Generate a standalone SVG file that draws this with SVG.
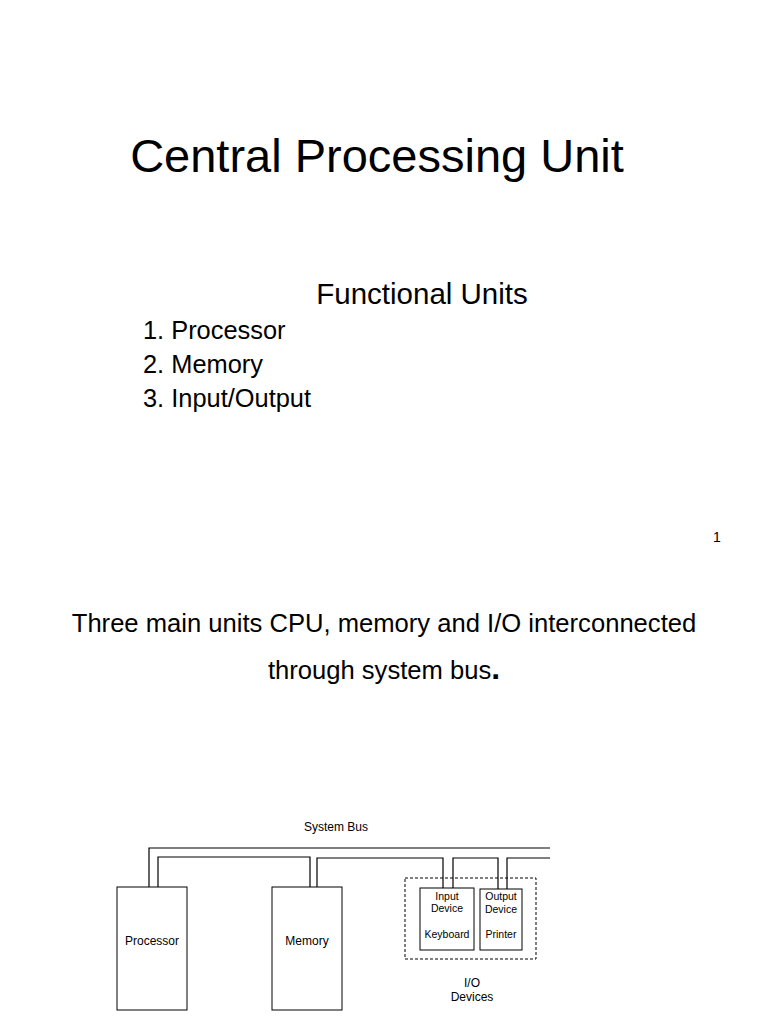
<svg xmlns="http://www.w3.org/2000/svg" width="768" height="1024" viewBox="0 0 768 1024">
<style>
text{font-family:"Liberation Sans",Arial,sans-serif;fill:#000}
.box{fill:#fff;stroke:#000;stroke-width:1}
.w{fill:none;stroke:#000;stroke-width:1.2}
.s{font-size:12px;text-anchor:middle}
.t{font-size:10.5px;text-anchor:middle}
</style>
<rect width="768" height="1024" fill="#fff"/>
<text x="377" y="172" font-size="47" text-anchor="middle">Central Processing Unit</text>
<text x="422" y="304" font-size="29.5" text-anchor="middle">Functional Units</text>
<text x="143" y="339" font-size="25.4">1. Processor</text>
<text x="143" y="373" font-size="25.4">2. Memory</text>
<text x="143" y="407" font-size="25.4">3. Input/Output</text>
<text x="717" y="542" font-size="14" text-anchor="middle">1</text>
<text x="384" y="632" font-size="25.6" text-anchor="middle">Three main units CPU, memory and I/O interconnected</text>
<text x="384" y="679" font-size="25.6" text-anchor="middle">through system bus<tspan font-size="32" font-weight="bold">.</tspan></text>
<g id="connectors">
<polyline class="w" points="149,887 149,848 550,848"/>
<polyline class="w" points="158,887 158,857 310,857 310,887"/>
<polyline class="w" points="317,887 317,858 443,858 443,889"/>
<polyline class="w" points="453,889 453,858 498,858 498,889"/>
<polyline class="w" points="507,889 507,858 550,858"/>
</g>
<text x="336" y="831" class="s">System Bus</text>
<g id="processor"><rect class="box" x="117" y="887" width="70" height="123"/><text x="152" y="945" class="s">Processor</text></g>
<g id="memory"><rect class="box" x="272" y="887" width="70" height="123"/><text x="307" y="945" class="s">Memory</text></g>
<g id="io"><rect x="405" y="878" width="131" height="81" fill="none" stroke="#000" stroke-dasharray="3,2"/>
<text x="472" y="987" class="s">I/O</text><text x="472" y="1001" class="s">Devices</text></g>
<g id="input"><rect class="box" x="420" y="888" width="54" height="62"/><text x="447" y="900" class="t">Input</text><text x="447" y="912" class="t">Device</text><text x="447" y="938" class="t">Keyboard</text></g>
<g id="output"><rect class="box" x="480" y="889" width="42" height="61"/><text x="501" y="900" class="t">Output</text><text x="501" y="913" class="t">Device</text><text x="501" y="938" class="t">Printer</text></g>
</svg>
